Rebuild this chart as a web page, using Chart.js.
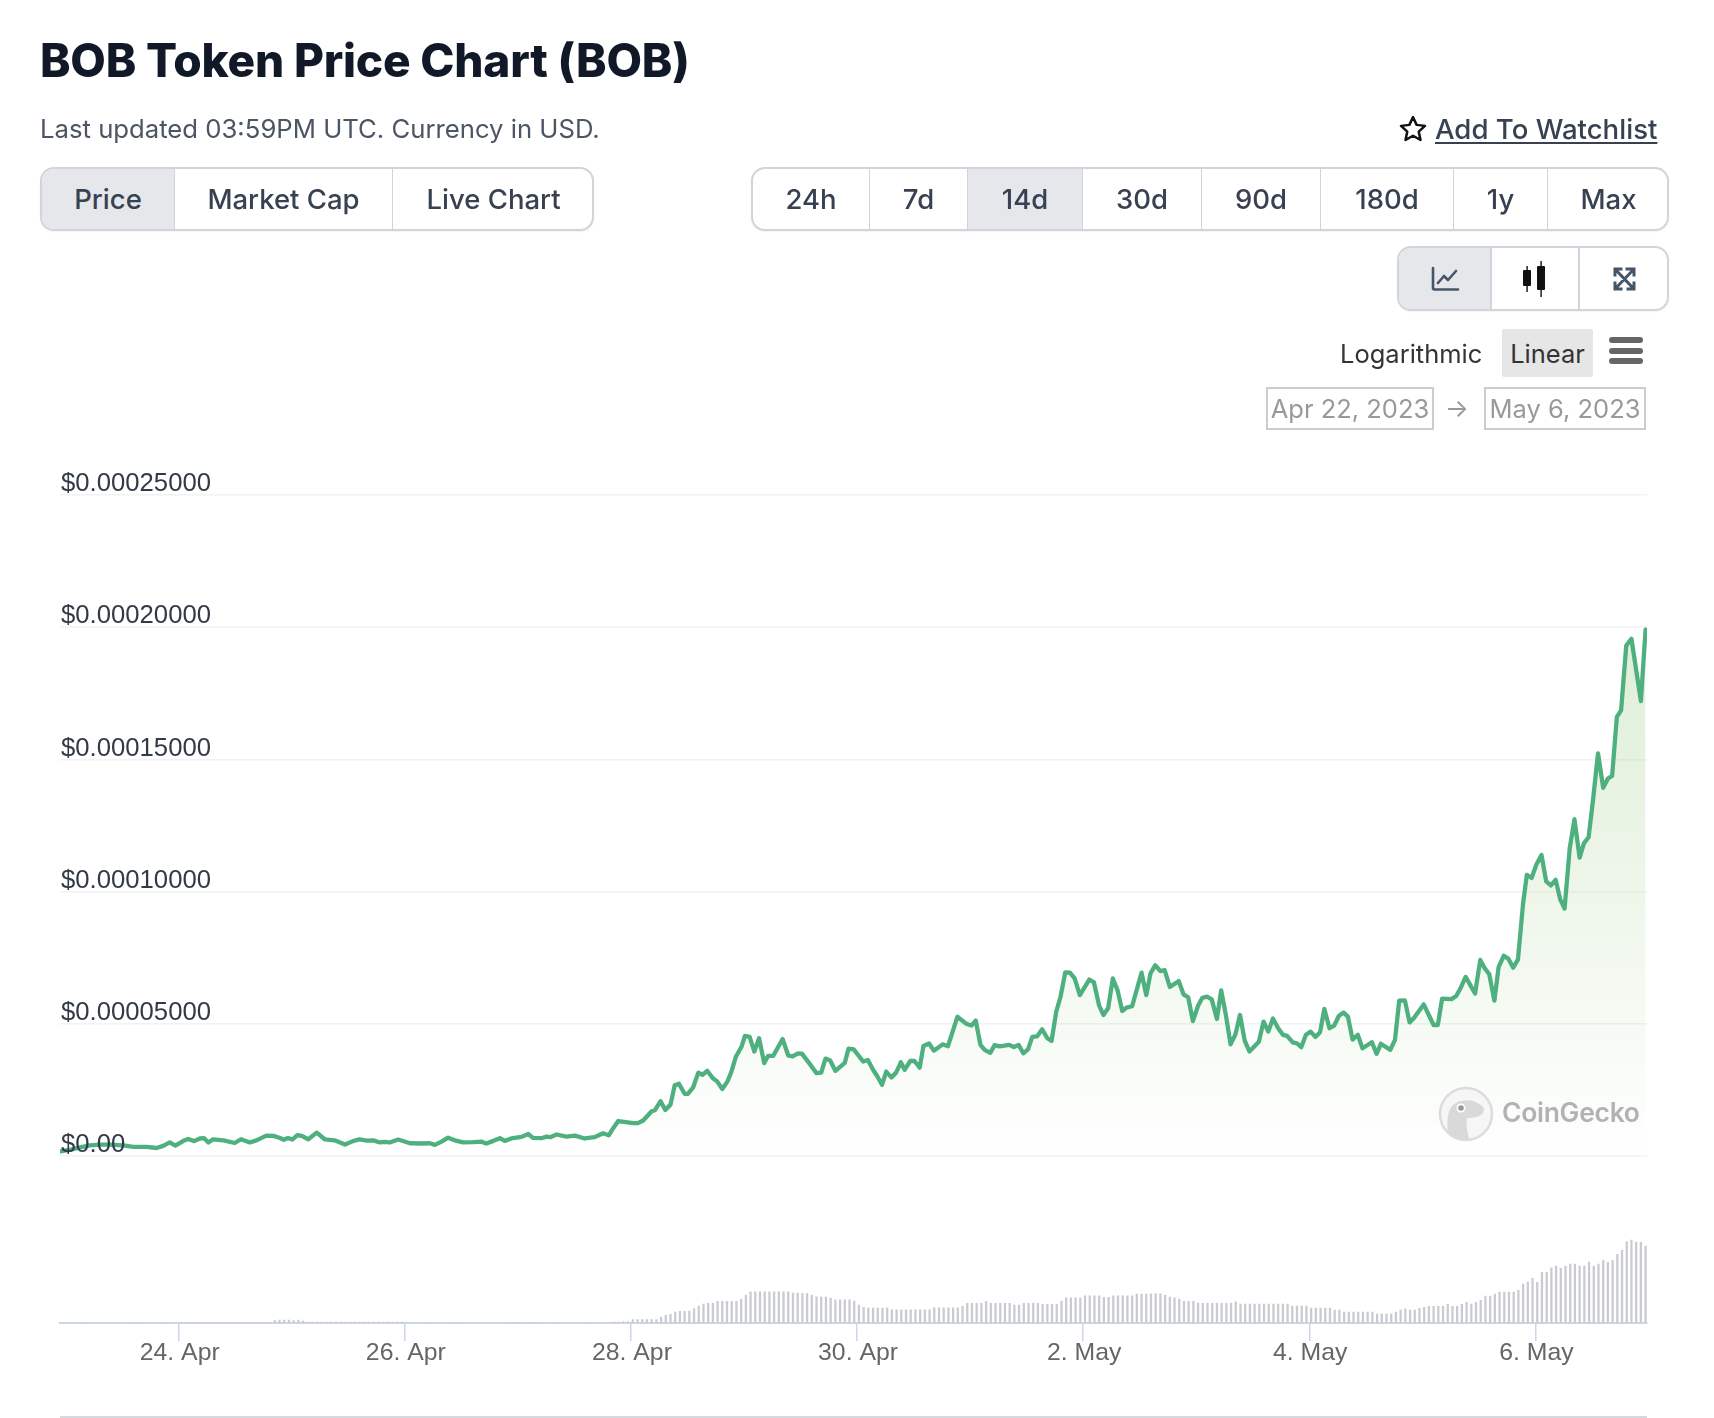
<!DOCTYPE html>
<html><head><meta charset="utf-8">
<script src="https://cdn.jsdelivr.net/npm/chart.js@4"></script>
<style>
html,body{margin:0;padding:0;background:#fff;width:1714px;height:1418px;overflow:hidden;font-family:Inter,sans-serif}
#c{position:absolute;left:0;top:0}
.a{position:absolute;white-space:nowrap}
.seg{position:absolute;box-sizing:border-box;border:2px solid #d1d5db;border-radius:14px;box-shadow:0 1px 2px rgba(0,0,0,.06);overflow:hidden;background:#fff}
.seg div{position:absolute;top:0;bottom:0;display:flex;align-items:center;justify-content:center;color:#374151;font-weight:500;font-size:27.5px;box-sizing:border-box;border-right:1.5px solid #d1d5db}
.seg div:last-child{border-right:none}
.seg div.on{background:#e5e7eb}
.dt{position:absolute;box-sizing:border-box;border:2px solid #ccc;color:#999;font-size:25.5px;display:flex;align-items:center;justify-content:center;top:387px;height:43px}
</style></head><body>
<canvas id="c" width="1714" height="1418"></canvas>

<div class="a" style="left:40px;top:31px;font-size:46px;font-weight:800;color:#111827;line-height:58px;letter-spacing:-.2px">BOB Token Price Chart (BOB)</div>
<div class="a" style="left:40px;top:112px;font-size:25.7px;color:#4b5563;line-height:34px">Last updated 03:59PM UTC. Currency in USD.</div>

<svg class="a" style="left:1398px;top:114px" width="30" height="30" viewBox="0 0 24 24" fill="none" stroke="#111" stroke-width="2" stroke-linejoin="round"><path d="M12 2.5l2.9 6.2 6.7.8-5 4.6 1.4 6.7L12 17.4l-6 3.4 1.4-6.7-5-4.6 6.7-.8z"/></svg>
<div class="a" style="left:1435px;top:112px;font-size:27.6px;font-weight:500;color:#374151;line-height:34px;text-decoration:underline;text-underline-offset:3px">Add To Watchlist</div>

<div class="seg" style="left:40px;top:167px;width:554px;height:64px">
 <div class="on" style="left:0;width:133px">Price</div>
 <div style="left:133px;width:218px">Market Cap</div>
 <div style="left:351px;width:201px">Live Chart</div>
</div>
<div class="seg" style="left:751px;top:167px;width:918px;height:64px">
 <div style="left:0;width:117px">24h</div>
 <div style="left:117px;width:98px">7d</div>
 <div class="on" style="left:215px;width:115px">14d</div>
 <div style="left:330px;width:119px">30d</div>
 <div style="left:449px;width:119px">90d</div>
 <div style="left:568px;width:133px">180d</div>
 <div style="left:701px;width:94px">1y</div>
 <div style="left:795px;width:121px">Max</div>
</div>
<div class="seg" style="left:1397px;top:246px;width:272px;height:65px">
 <div class="on" style="left:0;width:93px;border-right-width:2px"><svg width="30" height="28" viewBox="0 0 30 28" fill="none" stroke="#475569" stroke-width="2.6" stroke-linecap="round" stroke-linejoin="round"><path d="M3 3v20q0 1.5 1.5 1.5H28"/><path d="M8 18l6-7 4 4 8-9"/></svg></div>
 <div style="left:93px;width:88px;border-right-width:2px"><svg width="28" height="36" viewBox="0 0 28 36" fill="#111"><rect x="2" y="9" width="8" height="16" rx="1"/><rect x="5.4" y="5" width="1.4" height="26"/><rect x="16" y="5" width="8" height="24" rx="1"/><rect x="19.4" y="0" width="1.4" height="36"/></svg></div>
 <div style="left:181px;width:87px"><svg width="26" height="26" viewBox="0 0 26 26" fill="none" stroke="#475569" stroke-width="3" stroke-linecap="square"><path d="M4 9V3h6M16 3h7v6M23 17v6h-6M10 23H4v-6M5 4l17 18M22 4L5 22"/></svg></div>
</div>

<div class="a" style="left:1340px;top:337px;font-size:25.5px;color:#333;line-height:34px">Logarithmic</div>
<div class="a" style="left:1502px;top:329px;width:91px;height:48px;background:#e6e6e6;border-radius:2px;font-size:25.5px;color:#333;text-align:center;line-height:50px">Linear</div>
<div class="a" style="left:1609px;top:337px;width:34px;height:6px;background:#666;border-radius:3px"></div>
<div class="a" style="left:1609px;top:348px;width:34px;height:6px;background:#666;border-radius:3px"></div>
<div class="a" style="left:1609px;top:358px;width:34px;height:6px;background:#666;border-radius:3px"></div>

<div class="dt" style="left:1266px;width:168px">Apr 22, 2023</div>
<div class="a" style="left:1445px;top:391px;font-size:25px;color:#999;line-height:34px">→</div>
<div class="dt" style="left:1484px;width:162px">May 6, 2023</div>

<svg class="a" style="left:1437px;top:1086px" width="58" height="56" viewBox="0 0 58 56"><circle cx="29" cy="28" r="26" fill="#f6f6f6" stroke="#dcdcdc" stroke-width="2.5"/><path d="M11 46C9 30 12 17 24 15c8-2 14 0 20 4 3 2 4 5 2 8-3 4-10 5-16 5-1 6 0 12 2 21-8 2-16-1-21-7z" fill="#d9d9d9"/><circle cx="24" cy="22" r="4.5" fill="#fff"/><circle cx="24" cy="22" r="2.8" fill="#999"/></svg>
<div class="a" style="left:1502px;top:1094px;font-size:26.5px;font-weight:600;color:#b2b2b2;line-height:36px;letter-spacing:-.3px">CoinGecko</div>

<div class="a" style="left:60px;top:1416px;width:1587px;height:2px;background:#d5d9e2"></div>

<script>
const xLabels = ["24. Apr","26. Apr","28. Apr","30. Apr","2. May","4. May","6. May"];
const xTickHours = [25.2,73.2,121.2,169.2,217.2,265.2,313.2];
const yTicks = [0,0.00005,0.0001,0.00015,0.0002,0.00025];

// Hours after the left edge of the window, one per traced vertex
const priceHours = [
0,2.1,4.2,6.4,8.5,10.6,13.4,15.6,18.4,20.5,21.9,23.3,24.5,26.2,27.2,28.5,29.7,30.6,31.5,32.5,
34.7,37.1,38.4,40.3,41.7,43.8,45.3,46.7,47.5,48.4,49.3,50.4,51.3,52.7,54.5,56.2,58.3,60.5,62.2,63.6,
65.1,66.5,67.9,69,70,71.8,74.3,76.7,78.5,79.6,81,82.4,83.8,85.6,87.7,89.5,90.5,92,93.4,94.4,
95.8,98,99.4,100.4,102.2,103.3,104.1,105.4,107.5,109.3,111.4,113.5,115.3,116.5,117.4,118.5,121.7,122.7,123.8,125.6,
126.3,127.5,128.5,129.6,130.5,131.4,132.6,133.3,134.4,135.5,136.4,137.4,138.6,139.5,140.6,141.7,142.5,143.5,144.7,145.4,
146.4,147.4,148.4,149.5,150.3,151.4,153.4,154.6,155.5,156.7,157.5,159.2,160.6,161.6,162.5,163.5,164.6,166.6,167.4,168.5,
170.5,171.5,172.6,173.4,174.5,175.4,176.5,177.5,178.5,179.3,180.5,181.4,182.5,183.3,184.5,185.5,187.4,188.5,190.5,192.4,
193.5,194.4,195.4,196.3,197.5,198.4,199.5,201.5,202.5,203.5,204.5,205.5,206.4,207.4,208.5,209.6,210.5,211.5,212.4,213.4,
214.4,215.4,216.5,218.5,219.5,220.6,221.5,222.5,223.5,224.5,225.5,226.4,227.6,229.6,230.6,231.5,232.5,233.6,234.5,235.6,
237.5,238.5,239.5,240.5,241.6,242.5,243.5,244.5,245.6,246.5,247.5,248.5,249.5,250.5,251.5,252.5,254.5,255.5,256.5,257.5,
258.6,259.6,260.5,261.7,262.6,263.5,264.5,265.5,266.5,267.5,268.4,269.5,270.5,271.5,272.5,273.4,274.4,275.5,276.5,278.5,
279.5,280.4,282.4,283.4,284.3,285.5,286.5,287.5,289.5,291.6,292.5,293.4,295.4,296.4,297.4,298.4,300.4,301.5,302.5,303.4,
304.5,305.4,306.5,307.5,308.5,309.5,310.6,311.4,312.4,313.4,314.5,315.5,316.5,317.5,318.5,319.4,320.5,321.5,322.6,323.5,
324.5,325.4,326.5,327.6,328.6,329.5,330.5,331.4,332.5,333.6,335.6,336.6];

// Price at each vertex, in units of 0.00001 USD
const priceE5 = [
.18,.24,.33,.41,.44,.44,.41,.35,.35,.31,.39,.52,.40,.58,.65,.57,.67,.68,.52,.64,
.60,.50,.64,.52,.60,.78,.77,.69,.62,.69,.63,.80,.77,.64,.89,.64,.60,.44,.57,.64,
.59,.60,.52,.54,.52,.63,.49,.48,.49,.43,.55,.70,.60,.52,.53,.55,.48,.58,.68,.58,
.67,.73,.84,.69,.68,.74,.72,.82,.74,.78,.67,.72,.87,.79,1.05,1.33,1.25,1.25,1.35,1.70,
1.74,2.08,1.75,1.95,2.68,2.74,2.36,2.36,2.60,3.16,3.08,3.23,2.95,2.83,2.54,2.83,3.18,3.77,4.15,4.55,
4.51,3.96,4.46,3.52,3.79,3.79,4.43,3.81,3.77,3.89,3.88,3.48,3.14,3.16,3.69,3.62,3.23,3.53,4.07,4.04,
3.58,3.64,3.27,3.05,2.70,3.20,2.98,3.16,3.55,3.27,3.60,3.60,3.35,4.17,4.26,3.99,4.23,4.16,5.27,5.01,
4.94,5.13,4.21,4.02,3.91,4.20,4.15,4.21,4.13,4.21,3.89,4.04,4.51,4.53,4.80,4.46,4.36,5.47,6.03,6.95,
6.94,6.72,6.09,6.68,6.57,5.69,5.34,5.59,6.72,6.28,5.49,5.62,5.67,6.94,6.09,6.91,7.22,7.00,7.04,6.40,
6.62,6.12,6.01,5.11,5.69,5.99,6.03,5.93,5.19,6.27,5.34,4.23,4.59,5.34,4.37,3.96,4.33,5.09,4.71,5.21,
4.84,4.59,4.55,4.30,4.27,4.12,4.59,4.71,4.51,4.69,5.57,4.84,4.94,5.31,5.43,5.28,4.41,4.59,4.08,4.31,
3.87,4.25,4.02,4.40,5.88,5.89,5.06,5.24,5.74,4.96,4.96,5.96,5.94,6.06,6.38,6.78,6.15,7.42,7.09,6.89,
5.88,7.15,7.58,7.46,7.13,7.43,9.57,10.64,10.52,11.02,11.39,10.39,10.24,10.45,9.70,9.36,11.65,12.74,11.29,11.83,
12.06,13.40,15.23,13.93,14.28,14.38,16.61,16.86,19.31,19.56,17.21,19.91];

// Hourly traded volume, relative units (the reference has no volume scale)
const volume = [
0,0,0,0,0,0,0,0,0,0,
0,0,0,0,0,0,0,0,0,0,
0,0,0,0,0,.6,.6,.6,.6,.6,
.6,.6,.6,.6,.6,.6,.6,.6,.6,.6,
.6,.6,.6,.6,.6,2.5,3,3,3,2.5,
3,2,1,1,1,1,1,1,1,1,
1,1,1,1,1,1,1,1,1,1,
1,1,1,0,0,0,0,0,0,0,
0,0,0,0,0,0,0,0,0,0,
0,0,0,0,0,0,.5,.5,0,.5,
.5,0,0,0,0,.5,0,0,0,0,
0,0,0,0,0,0,0,1,1,1.3,
1.3,3.3,3.3,3.3,3.3,3.3,3.3,6,7.7,8.7,
11,11.7,11.7,12,14.3,17,19,19.7,19.7,21.7,
21.7,21.7,21.7,21.7,23.7,28,31.3,31.3,31.3,31.3,
31.3,31.3,31.3,31.3,31.3,30,29.7,29.7,29.7,28,
26.3,26.3,26,25,23.3,23.3,23.3,23.3,22,18,
15.7,15,15,15,15,15.3,13.3,13.3,13.3,13.3,
13.3,13.3,13.3,13.3,13.3,15.3,15.3,15.3,15.3,15.3,
15.3,16.7,19.7,19.7,19.7,19.7,21.7,19.7,19.7,19.7,
19.7,19.7,18,18,19.7,19.7,19.7,19.7,18.7,18.7,
18.7,18.7,22,25.3,25.3,25.3,25.3,27.3,27.3,27.3,
27.3,25.7,25.7,27.3,27.3,27.3,27.3,27.3,29,29,
29,29.3,29.3,29.3,27.7,26,25.3,24,21.7,21.7,
21.7,20,19.7,19.7,19.7,19.7,19.7,19.7,19.7,21.3,
19,19,19,19,19,19,19,19,19,19,
19,17,17,17,17,15,15,15,15,15,
13,13,11,11,11,11,11,11,11,9,
9,9,9,11,13,14.3,13,13,14.7,15.7,
16.7,16.7,16.7,16.7,18.7,16.7,16.7,18.7,20.7,19,
20.7,22.7,27,27,29,31,31,31,31,33,
39,41,44.7,40.7,50.7,50.7,55.3,57,54.7,57,
59,59,57,57,61,57,59,62.7,60.7,62.7,
68.7,72.7,81.3,83,81,80.7,77];

function areaFill(c){
  const {ctx,chartArea,scales}=c.chart;
  if(!chartArea) return 'rgba(0,0,0,0)';
  const g=ctx.createLinearGradient(0,scales.y.getPixelForValue(yTicks[4]),0,scales.y.getPixelForValue(0));
  g.addColorStop(0,'rgba(150,200,125,.30)');
  g.addColorStop(.5,'rgba(150,200,125,.16)');
  g.addColorStop(.8,'rgba(150,200,125,.07)');
  g.addColorStop(1,'rgba(150,200,125,0)');
  return g;
}

new Chart(document.getElementById('c'),{
  data:{datasets:[
    {type:'bar',label:'Volume',yAxisID:'v',xAxisID:'x',parsing:false,
     data:volume.map((v,i)=>({x:i+.6,y:v})),backgroundColor:'#c9cbd1',barThickness:1.6,order:2},
    {type:'line',label:'Price',yAxisID:'y',xAxisID:'x',parsing:false,
     data:priceHours.map((h,i)=>({x:h,y:priceE5[i]*1e-5})),
     borderColor:'#4eb07f',borderWidth:4.3,borderJoinStyle:'round',borderCapStyle:'round',
     pointRadius:0,tension:0,fill:{target:{value:0}},backgroundColor:areaFill,order:1}
  ]},
  options:{
    responsive:false,animation:false,
    layout:{padding:{left:60,right:67,top:495,bottom:0}},
    plugins:{legend:{display:false},tooltip:{enabled:false}},
    scales:{
      x:{type:'linear',min:0,max:336.9,position:'bottom',offset:false,
        afterFit(s){s.height=95},
        afterBuildTicks(s){s.ticks=xTickHours.map(v=>({value:v}))},
        border:{color:'#ccd6eb',width:2},
        grid:{offset:false,drawOnChartArea:false,color:'#ccd6eb',tickColor:'#ccd6eb',tickLength:18,lineWidth:1.5},
        ticks:{autoSkip:false,maxRotation:0,padding:-3,labelOffset:1,color:'#666',
          font:{family:'"Liberation Sans"',size:24.8},
          callback(v){return xLabels[xTickHours.indexOf(v)]}}},
      y:{type:'linear',position:'left',stack:'p',stackWeight:662,weight:1,min:0,max:yTicks[5],
        afterFit(s){s.width=0},
        afterBuildTicks(s){s.ticks=yTicks.map(v=>({value:v}))},
        border:{display:false},
        grid:{color:'#f2f2f2',lineWidth:1.5,drawTicks:false},
        ticks:{mirror:true,padding:1,labelOffset:-11,z:1,color:'#333a47',
          font:{family:'"Liberation Sans"',size:25.7},
          callback(v){return v===0?'$0.00':'$'+v.toFixed(8)}}},
      v:{type:'linear',position:'left',stack:'p',stackWeight:167,weight:0,min:0,max:167,
        afterFit(s){s.width=0},
        border:{display:false},grid:{display:false},ticks:{display:false}}
    }
  }
});
</script>
</body></html>
